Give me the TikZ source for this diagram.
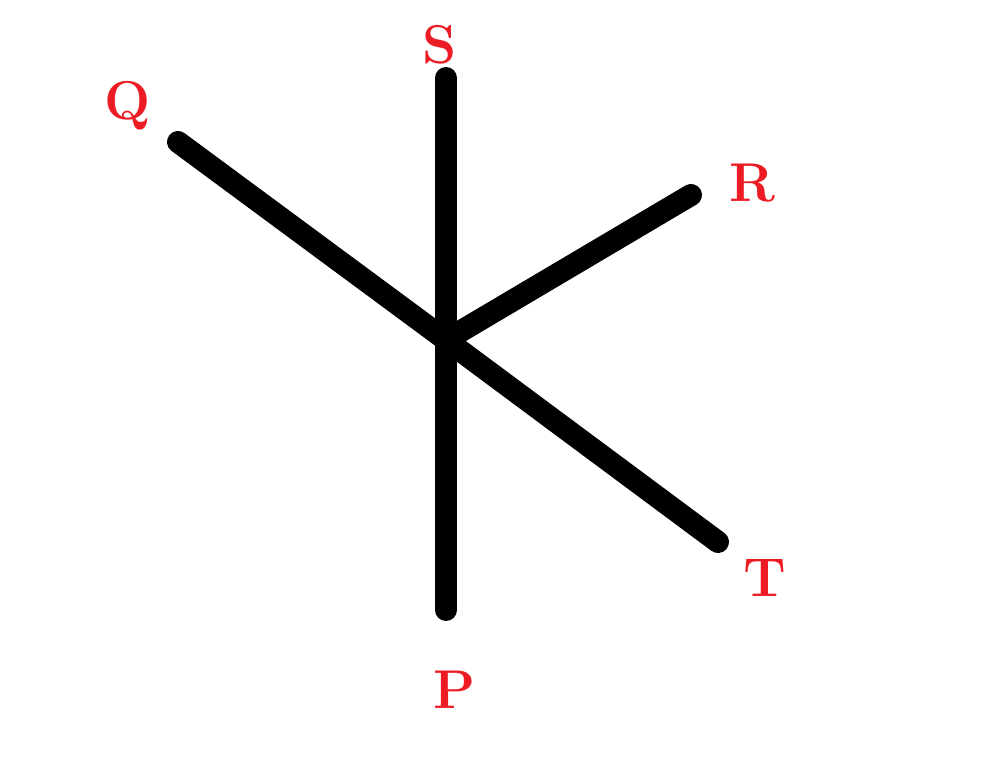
\documentclass[tikz,border=0pt]{standalone}
\usepackage{tikz}
\usepackage{color}
\definecolor{lblred}{RGB}{237,28,36}

\begin{document}
\begin{tikzpicture}[x=0.75pt,y=0.75pt,yscale=-1,xscale=1]
				\useasboundingbox (0,0) rectangle (1000,766);
				\tikzset{bond/.style={line width=16.5pt,line cap=round},
					lbl/.style={text=lblred,inner sep=0.75pt,font=\fontsize{41}{44}\selectfont\bfseries}}
				
				%Coordinates
				\coordinate (o) at (446,340);
				\coordinate (s) at (446,78);
				\coordinate (p) at (446,610);
				\coordinate (q) at (178,142);
				\coordinate (r) at (691,195);
				\coordinate (t) at (718,542);
				
				%Straight Lines
				\draw [bond]   (s) -- (p) ;
				%Straight Lines
				\draw [bond]   (q) -- (o) ;
				%Straight Lines
				\draw [bond]   (o) -- (r) ;
				%Straight Lines
				\draw [bond]   (o) -- (t) ;
				
				% Text Node
				\draw (440,45) node [lbl] (ls)   {S};
				% Text Node
				\draw (128,106) node [lbl] (lq)   {Q};
				% Text Node
				\draw (752,183) node [lbl] (lr)   {R};
				% Text Node
				\draw (765,578) node [lbl] (lt)   {T};
				% Text Node
				\draw (455,690) node [lbl] (lp)   {P};
				
				\end{tikzpicture}
\end{document}
